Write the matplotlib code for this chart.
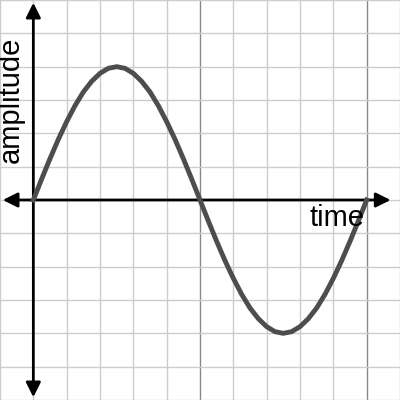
import matplotlib.pyplot as plt
from matplotlib.patches import FancyArrowPatch

plt.rcParams['font.family'] = ['Liberation Sans', 'DejaVu Sans']

# wave (1 unit = one grid cell)
t_vals = [i * 0.25 for i in range(41)]
rise = [0, 0.63, 1.24, 1.82, 2.35, 2.83, 3.24, 3.56, 3.80, 3.95, 4.0,
        3.95, 3.80, 3.56, 3.24, 2.83, 2.35, 1.82, 1.24, 0.63]
amp_vals = rise + [-v for v in rise] + [0]
x_label = "time"
y_label = "amplitude"

fig = plt.figure(figsize=(4, 4), dpi=100)
ax = fig.add_axes([0, 0, 1, 1])
ax.set_xlim(-1, 11)
ax.set_ylim(-6, 6)
ax.axis("off")

# grid
for gx in range(-1, 12):
    dark = gx % 5 == 0 and gx != 0
    ax.axvline(gx, color="#888888" if dark else "#cccccc", lw=1.0, zorder=0)
for gy in range(-6, 7):
    ax.axhline(gy, color="#cccccc", lw=1.0, zorder=0)

# axes arrows
ax.add_patch(FancyArrowPatch((-1, 0), (10.8, 0), arrowstyle="<|-|>", mutation_scale=22,
                             color="black", lw=2, zorder=3))
ax.add_patch(FancyArrowPatch((0, -6), (0, 6), arrowstyle="<|-|>", mutation_scale=22,
                             color="black", lw=2, zorder=3))

ax.plot(t_vals, amp_vals, color="#4d4d4d", lw=3.5, zorder=4)

ax.text(9.1, -0.55, x_label, fontsize=21, ha="center", va="center", zorder=5)
ax.text(-0.68, 3.0, y_label, fontsize=21, rotation=90, ha="center", va="center", zorder=5)

fig.savefig("out.png", dpi=100)
